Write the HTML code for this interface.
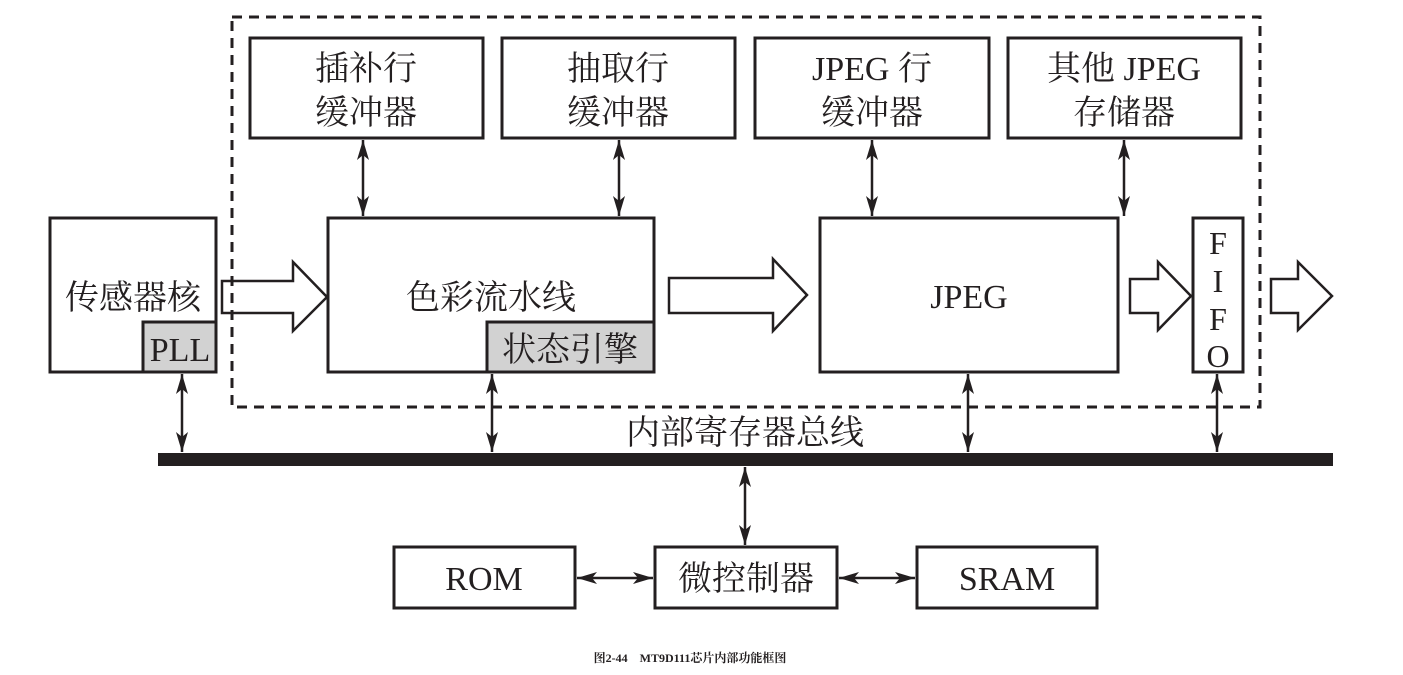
<!DOCTYPE html>
<html><head><meta charset="utf-8"><style>body{margin:0;background:#fff}svg{display:block}text{font-family:"Liberation Serif","Noto Serif CJK SC",serif;fill:#231f20}</style></head><body>
<svg width="1403" height="675" viewBox="0 0 1403 675">
<defs>
<marker id="a" viewBox="0 0 20 12" refX="20" refY="6" markerWidth="20" markerHeight="12" orient="auto-start-reverse" markerUnits="userSpaceOnUse"><path d="M0,0 L20,6 L0,12 L5,6 z" fill="#231f20"/></marker>
</defs>
<g stroke="#231f20" stroke-width="3" fill="none">
<rect x="232" y="17" width="1028" height="390" stroke-dasharray="10,7"/>
<rect x="250" y="38" width="233" height="100"/>
<rect x="502" y="38" width="233" height="100"/>
<rect x="755" y="38" width="234" height="100"/>
<rect x="1008" y="38" width="233" height="100"/>
<rect x="50" y="218" width="166" height="154"/>
<rect x="143" y="322" width="73" height="50" fill="#d2d2d2"/>
<rect x="328" y="218" width="326" height="154"/>
<rect x="487" y="322" width="167" height="50" fill="#d2d2d2"/>
<rect x="820" y="218" width="298" height="154"/>
<rect x="1193" y="218" width="50" height="154"/>
<rect x="394" y="547" width="181" height="61"/>
<rect x="655" y="547" width="182" height="61"/>
<rect x="917" y="547" width="180" height="61"/>
<path d="M222,281 H293 V262 L327,297 L293,331 V313 H222 Z" stroke-width="2.5"/>
<path d="M669,278 H773 V259 L807,295 L773,331 V313 H669 Z" stroke-width="2.5"/>
<path d="M1130,279 H1158 V262 L1191,296 L1158,330 V313 H1130 Z" stroke-width="2.5"/>
<path d="M1271,279 H1298 V262 L1332,296 L1298,330 V313 H1271 Z" stroke-width="2.5"/>
</g>
<rect x="158" y="453" width="1175" height="13" fill="#231f20"/>
<g stroke="#231f20" stroke-width="2.5" marker-start="url(#a)" marker-end="url(#a)">
<line x1="363" y1="140" x2="363" y2="216"/>
<line x1="619" y1="140" x2="619" y2="216"/>
<line x1="872" y1="140" x2="872" y2="216"/>
<line x1="1124" y1="140" x2="1124" y2="216"/>
<line x1="182" y1="374" x2="182" y2="452"/>
<line x1="492" y1="374" x2="492" y2="452"/>
<line x1="968" y1="374" x2="968" y2="452"/>
<line x1="1217" y1="374" x2="1217" y2="452"/>
<line x1="745" y1="467" x2="745" y2="545"/>
<line x1="577" y1="578" x2="653" y2="578"/>
<line x1="839" y1="578" x2="915" y2="578"/>
</g>
<g font-size="34" text-anchor="middle">
<text x="366" y="80">插补行</text><text x="366" y="124">缓冲器</text>
<text x="618" y="80">抽取行</text><text x="618" y="124">缓冲器</text>
<text x="872" y="80">JPEG 行</text><text x="872" y="124">缓冲器</text>
<text x="1124" y="80">其他 JPEG</text><text x="1124" y="124">存储器</text>
<text x="133" y="309">传感器核</text>
<text x="180" y="361">PLL</text>
<text x="491" y="309">色彩流水线</text>
<text x="570" y="361">状态引擎</text>
<text x="969" y="308">JPEG</text>
<text x="1218" y="254" font-size="32">F</text><text x="1218" y="292" font-size="32">I</text><text x="1218" y="330" font-size="32">F</text><text x="1218" y="367" font-size="32">O</text>
<text x="745" y="444">内部寄存器总线</text>
<text x="484" y="590">ROM</text>
<text x="746" y="590">微控制器</text>
<text x="1007" y="590">SRAM</text>
</g>
<text x="690" y="662" font-size="12" font-weight="bold" text-anchor="middle">图2-44　MT9D111芯片内部功能框图</text>
</svg>
</body></html>
